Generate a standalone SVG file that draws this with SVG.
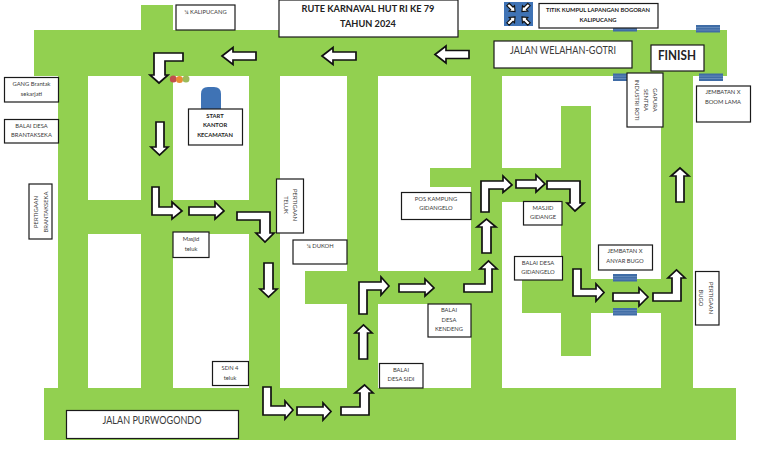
<svg xmlns="http://www.w3.org/2000/svg" width="768" height="466" viewBox="0 0 768 466">
<style>
text{font-family:"Lato","Open Sans","Liberation Sans",sans-serif;fill:#3a3a3a;text-anchor:middle}
.road{fill:#92D050}
.box{fill:#fff;stroke:#1a1a1a;stroke-width:1.2}
.arrow{fill:#fff;stroke:#111;stroke-width:1.7;stroke-linejoin:miter}
.s{font-size:5.8px}
.b{font-size:5.8px;font-weight:700;fill:#222}
.m{font-size:10.5px}
.t{font-size:9.2px;font-weight:700;fill:#222}
.bridge{fill:#3F6CA6}
.bl{stroke:#7f9fc8;stroke-width:.6}
</style>
<defs>
<g id="bridge"><rect class="bridge" width="24" height="7.500"/><path class="bl" d="M0 2.600H24M0 5H24"/></g>
<polygon id="ico" points="-5,-1.700 0.500,-1.700 0.500,-3.800 5,0 0.500,3.800 0.500,1.700 -5,1.700" fill="#fff" stroke="#111" stroke-width="1.100"/>
</defs>
<rect width="768" height="466" fill="#fff"/>
<g id="roads" class="road">
<rect x="141" y="5" width="32" height="30"/>
<rect x="34" y="30" width="693" height="46"/>
<rect x="58" y="70" width="30" height="325"/>
<rect x="141" y="70" width="32" height="325"/>
<rect x="249" y="70" width="31" height="325"/>
<rect x="347" y="70" width="31" height="325"/>
<rect x="471" y="70" width="31" height="325"/>
<rect x="661" y="70" width="32" height="325"/>
<rect x="44" y="388" width="692" height="52"/>
<rect x="58" y="200" width="222" height="34"/>
<rect x="305" y="271" width="170" height="33"/>
<rect x="430" y="168" width="140" height="19"/>
<rect x="471" y="187" width="95" height="15"/>
<rect x="561" y="106" width="30" height="250"/>
<rect x="522" y="279" width="145" height="34"/>
</g>
<g id="bridges">
<use href="#bridge" x="613" y="24"/>
<use href="#bridge" x="696" y="25"/>
<use href="#bridge" x="613" y="73.500"/>
<use href="#bridge" x="699" y="73.500"/>
<use href="#bridge" x="613" y="274"/>
<use href="#bridge" x="613" y="308"/>
</g>
<g id="connectors">
<polygon class="arrow" points="222,56 233,47.500 233,52 256,52 256,60 233,60 233,64.500"/>
<polygon class="arrow" points="322,56 333,47.500 333,52 356,52 356,60 333,60 333,64.500"/>
<polygon class="arrow" points="435,54.500 446,46 446,50.500 469,50.500 469,58.500 446,58.500 446,63"/>
<polygon class="arrow" points="183,53 154,53 154,75 150,75 159,83 168,75 165,75 165,61 183,61"/>
<polygon class="arrow" points="156,122 164,122 164,147 168,147 159.500,155 151,147 156,147"/>
<polygon class="arrow" points="152,187 159,187 159,207 172,207 172,202 182,211 172,219 172,215 152,215"/>
<polygon class="arrow" points="189,207 215,207 215,202 224,211 215,219 215,215 189,215"/>
<polygon class="arrow" points="237,212 270,212 270,233 274,233 265,242 256,233 260,233 260,220 237,220"/>
<polygon class="arrow" points="264,263 273,263 273,289 277,289 268.500,297 260,289 264,289"/>
<polygon class="arrow" points="263,387 271,387 271,406 285,406 285,401 293,410 285,419 285,415 263,415"/>
<polygon class="arrow" points="297,407 323,407 323,403 331,411.500 323,420 323,415 297,415"/>
<polygon class="arrow" points="341,407 360,407 360,393 355,393 364.500,385 373,393 369,393 369,415 341,415"/>
<polygon class="arrow" points="359,359 367.500,359 367.500,333 372,333 363.500,325 355,333 359,333"/>
<polygon class="arrow" points="359,314 367,314 367,290 381,290 381,295 389,286 381,277 381,282 359,282"/>
<polygon class="arrow" points="399,284 425,284 425,279 434,288 425,296 425,292 399,292"/>
<polygon class="arrow" points="464,284 485,284 485,269 480,269 488.500,261 497,269 492,269 492,292 464,292"/>
<polygon class="arrow" points="482,253 491,253 491,227 496,227 486.500,219 477,227 482,227"/>
<polygon class="arrow" points="481,212 489,212 489,189 503,189 503,192.500 512,185 503,176 503,181 481,181"/>
<polygon class="arrow" points="516,180 536,180 536,175 545,184 536,192 536,188 516,188"/>
<polygon class="arrow" points="547,181 580,181 580,203 584,203 575,211 567,203 570,203 570,189 547,189"/>
<polygon class="arrow" points="573,269 581,269 581,289 596,289 596,284 604,292.500 596,301 596,296 573,296"/>
<polygon class="arrow" points="613,293 639,293 639,288 648,297 639,306 639,301 613,301"/>
<polygon class="arrow" points="653,293 672,293 672,278 668,278 676.500,270 685,278 681,278 681,301 653,301"/>
<polygon class="arrow" points="676,202 684,202 684,176 689,176 680,168 671,176 676,176"/>
</g>
<g id="traffic-light">
<circle cx="173.300" cy="79" r="3.500" fill="#C0504D"/>
<circle cx="179.500" cy="79.500" r="3.500" fill="#E98A33"/>
<circle cx="186" cy="79" r="3.500" fill="#9BBB59"/>
</g>
<g id="title"><rect class="box" x="279" y="0" width="179" height="37"/>
<text class="t" x="368" y="12">RUTE KARNAVAL HUT RI KE 79</text><text class="t" x="368" y="27">TAHUN 2024</text></g>
<g id="kalipucang"><rect class="box" x="176" y="5" width="59" height="25"/><text class="s" x="205.500" y="14">¾ KALIPUCANG</text></g>
<g id="gather-icon"><rect x="504" y="2" width="29" height="24" fill="#3F73B5"/>
<use href="#ico" transform="translate(511.500 8) rotate(45)"/>
<use href="#ico" transform="translate(525.500 8) rotate(135)"/>
<use href="#ico" transform="translate(525.500 20.500) rotate(225)"/>
<use href="#ico" transform="translate(511.500 20.500) rotate(315)"/></g>
<g id="titik"><rect class="box" x="539" y="3.500" width="119" height="24.500"/>
<text class="b" x="598" y="12">TITIK KUMPUL LAPANGAN BOGORAN</text><text class="b" x="598" y="21.500">KALIPUCANG</text></g>
<g id="welahan"><rect class="box" x="494" y="41" width="138" height="27"/><text class="m" x="563" y="54" textLength="106" lengthAdjust="spacingAndGlyphs">JALAN WELAHAN-GOTRI</text></g>
<g id="finish"><rect class="box" x="651" y="45" width="53" height="26"/><text x="677" y="60" font-size="13" font-weight="700" textLength="38" lengthAdjust="spacingAndGlyphs" style="fill:#222">FINISH</text></g>
<g id="gapura"><rect class="box" x="627" y="73" width="36" height="54"/>
<text class="s" transform="translate(653 100) rotate(90)">GAPURA</text>
<text class="s" transform="translate(644 100) rotate(90)">SENTRA</text>
<text class="s" transform="translate(634.500 100) rotate(90)">INDUSTRI ROTI</text></g>
<g id="boom-lama"><rect class="box" x="696.500" y="86" width="54" height="36"/>
<text class="s" x="723" y="94">JEMBATAN X</text><text class="s" x="723" y="104">BOOM LAMA</text></g>
<g id="gang"><rect class="box" x="4.500" y="77.500" width="54" height="24.500"/>
<text class="s" x="31.500" y="86">GANG Brantak</text><text class="s" x="31.500" y="96">sekarjati</text></g>
<g id="balai-brantakseka"><rect class="box" x="4.500" y="119.500" width="54" height="23.500"/>
<text class="s" x="31.500" y="128">BALAI DESA</text><text class="s" x="31.500" y="137">BRANTAKSEKA</text></g>
<g id="pertigaan-brantakseka"><rect class="box" x="29" y="184" width="23" height="55"/>
<text class="s" transform="translate(38 212) rotate(-90)">PERTIGAAN</text>
<text class="s" transform="translate(48 212) rotate(-90)">BRANTAKSEKA</text></g>
<g id="start-shape"><path d="M201 109V94Q201 87 208 87H214Q221 87 221 94V109Z" fill="#3F73B5"/></g>
<g id="start"><rect class="box" x="188.500" y="109" width="54" height="36"/>
<text class="b" x="215" y="118">START</text><text class="b" x="215" y="127">KANTOR</text><text class="b" x="215" y="137">KECAMATAN</text></g>
<g id="pertigaan-teluk"><rect class="box" x="276.500" y="179" width="27" height="54"/>
<text class="s" transform="translate(293 205) rotate(90)">PERTIGAAN</text>
<text class="s" transform="translate(283.500 205) rotate(90)">TELUK</text></g>
<g id="masjid-teluk"><rect class="box" x="173" y="232" width="36" height="25.500"/>
<text class="s" x="191" y="241">Masjid</text><text class="s" x="191" y="251">teluk</text></g>
<g id="dukoh"><rect class="box" x="293" y="240" width="54" height="24"/><text class="s" x="320" y="248">¾ DUKOH</text></g>
<g id="sdn"><rect class="box" x="212.500" y="361.500" width="36" height="24"/>
<text class="s" x="230" y="370">SDN 4</text><text class="s" x="230" y="380">teluk</text></g>
<g id="purwogondo"><rect class="box" x="66.500" y="410.500" width="172" height="28"/><text class="m" x="152" y="424" textLength="99" lengthAdjust="spacingAndGlyphs">JALAN PURWOGONDO</text></g>
<g id="balai-sidi"><rect class="box" x="379.500" y="363.500" width="43.500" height="24.500"/>
<text class="s" x="401" y="372">BALAI</text><text class="s" x="401" y="381">DESA SIDI</text></g>
<g id="balai-kendeng"><rect class="box" x="428" y="304" width="43" height="33"/>
<text class="s" x="449" y="312">BALAI</text><text class="s" x="449" y="322">DESA</text><text class="s" x="449" y="331">KENDENG</text></g>
<g id="pos-kampung"><rect class="box" x="401.500" y="192.500" width="69.500" height="27"/>
<text class="s" x="436" y="201">POS KAMPUNG</text><text class="s" x="436" y="210">GIDANGELO</text></g>
<g id="masjid-gidange"><rect class="box" x="523.500" y="201.500" width="38.500" height="23.500"/>
<text class="s" x="543" y="210">MASJID</text><text class="s" x="543" y="219">GIDANGE</text></g>
<g id="balai-gidangelo"><rect class="box" x="514.500" y="256.500" width="48" height="23.500"/>
<text class="s" x="538" y="265">BALAI DESA</text><text class="s" x="538" y="274">GIDANGELO</text></g>
<g id="anyar-bugo"><rect class="box" x="598.500" y="245" width="54" height="25"/>
<text class="s" x="625" y="253">JEMBATAN X</text><text class="s" x="625" y="263">ANYAR BUGO</text></g>
<g id="pertigaan-bugo"><rect class="box" x="695.500" y="271.500" width="23.500" height="53.500"/>
<text class="s" transform="translate(709 298) rotate(90)">PERTIGAAN</text>
<text class="s" transform="translate(699 298) rotate(90)">BUGO</text></g>
</svg>
